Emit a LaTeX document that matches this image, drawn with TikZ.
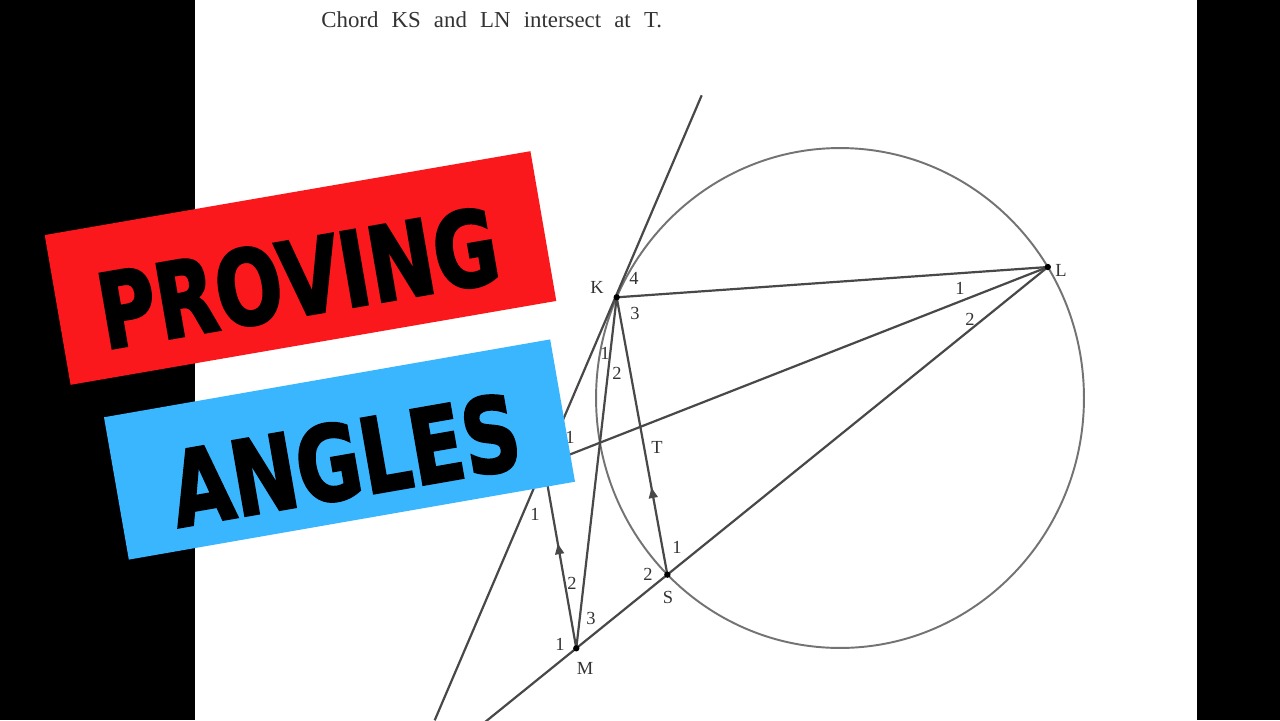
\documentclass[tikz,border=0pt]{standalone}
\usepackage{fontspec}
\usepackage{graphicx}
\setmainfont{Liberation Serif}
\newfontfamily\bannerfont{DejaVu Sans}[FakeBold=2.5]
\usetikzlibrary{calc,arrows.meta,decorations.markings}
\definecolor{bannerred}{RGB}{250,24,28}
\definecolor{bannerblue}{RGB}{58,182,255}
\definecolor{inkgray}{RGB}{72,72,72}
\tikzset{
  geo/.style={draw=inkgray, line width=1.25pt},
  rim/.style={draw=black!55, line width=1.1pt},
  lbl/.style={font=\fontsize{10.5}{12}\selectfont, text=black!80, inner sep=0pt},
  parmark/.style={postaction={decorate}, decoration={markings,
      mark=at position #1 with {\arrow{Triangle[length=6pt,width=5pt]}}}},
  bannertxt/.style={font=\bannerfont\bfseries\fontsize{59}{59}\selectfont, inner sep=0pt}
}
\begin{document}
\begin{tikzpicture}[x=0.02cm, y=-0.02cm]
        \clip (0,0) rectangle (1280,720);
        \fill[black] (0,0) rectangle (1280,720);
        \fill[white] (195,0) rectangle (1197,720);

        \node[anchor=base west, font=\fontsize{13}{15}\selectfont, text=black!80, inner sep=0pt] (cap) at (321,28)
          {\spaceskip=7.5pt plus 1pt Chord KS and LN intersect at T.};

        \coordinate (O) at (840,398);
        \coordinate (K) at ($(O)+(203.75:244 and 250)$);
        \coordinate (L) at ($(O)+(328.4:244 and 250)$);
        \coordinate (S) at ($(O)+(135.04:244 and 250)$);
        \coordinate (P) at ($(O)+(169.7:244 and 250)$);
        \coordinate (M) at (intersection of K--P and L--S);
        \coordinate (Ttop) at ($(K)+(85,-202)$);
        \coordinate (Tbot) at ($(K)+(-182,423)$);
        \coordinate (N) at (intersection of Tbot--Ttop and L--P);
        \coordinate (T) at (intersection of K--S and L--N);
        \coordinate (Mend) at ($(L)!1.2!(M)$);

        \draw[rim] (O) ellipse [x radius=4.88cm, y radius=5cm];
        \draw[geo] (Tbot) -- (Ttop);
        \draw[geo] (K) -- (L);
        \draw[geo] (L) -- (N);
        \draw[geo] (K) -- (M);
        \draw[geo] (L) -- (Mend);
        \draw[geo] (K) -- (T);
        \draw[geo, parmark=0.59] (S) -- (T);
        \draw[geo, parmark=0.57] (M) -- (N);
        \foreach \p in {K,L,S,M}
          \fill[black] (\p) circle (1.8pt);

        \node[lbl] (lK)  at (597,287) {K};
        \node[lbl] (k4)  at (634,278) {4};
        \node[lbl] (k3)  at (635,313) {3};
        \node[lbl] (k1)  at (605,353) {1};
        \node[lbl] (k2)  at (617,373) {2};
        \node[lbl] (lL)  at (1061,270) {L};
        \node[lbl] (l1)  at (960,288) {1};
        \node[lbl] (l2)  at (970,319) {2};
        \node[lbl] (lT)  at (657,447) {T};
        \node[lbl] (s1)  at (677,547) {1};
        \node[lbl] (s2)  at (648,574) {2};
        \node[lbl] (lS)  at (668,597) {S};
        \node[lbl] (m1)  at (560,644) {1};
        \node[lbl] (m2)  at (572,583) {2};
        \node[lbl] (m3)  at (591,618) {3};
        \node[lbl] (lM)  at (585,668) {M};
        \node[lbl] (n1)  at (535,514) {1};
        \node[lbl] (p1)  at (570,437) {1};

        \node[fill=bannerred, minimum width=9.86cm, minimum height=3.04cm, inner sep=0pt, rotate=9.8] (redbox) at (300.5,268) {};
        \node[bannertxt, rotate=9.8] (proving) at (298,278) {\scalebox{0.76}[1]{PROVING}};
        \node[fill=bannerblue, minimum width=9.06cm, minimum height=2.89cm, inner sep=0pt, rotate=9.9] (bluebox) at (339.5,449.5) {};
        \node[bannertxt, rotate=9.9] (angles) at (345,460) {\scalebox{0.76}[1]{ANGLES}};
      \end{tikzpicture}
\end{document}
